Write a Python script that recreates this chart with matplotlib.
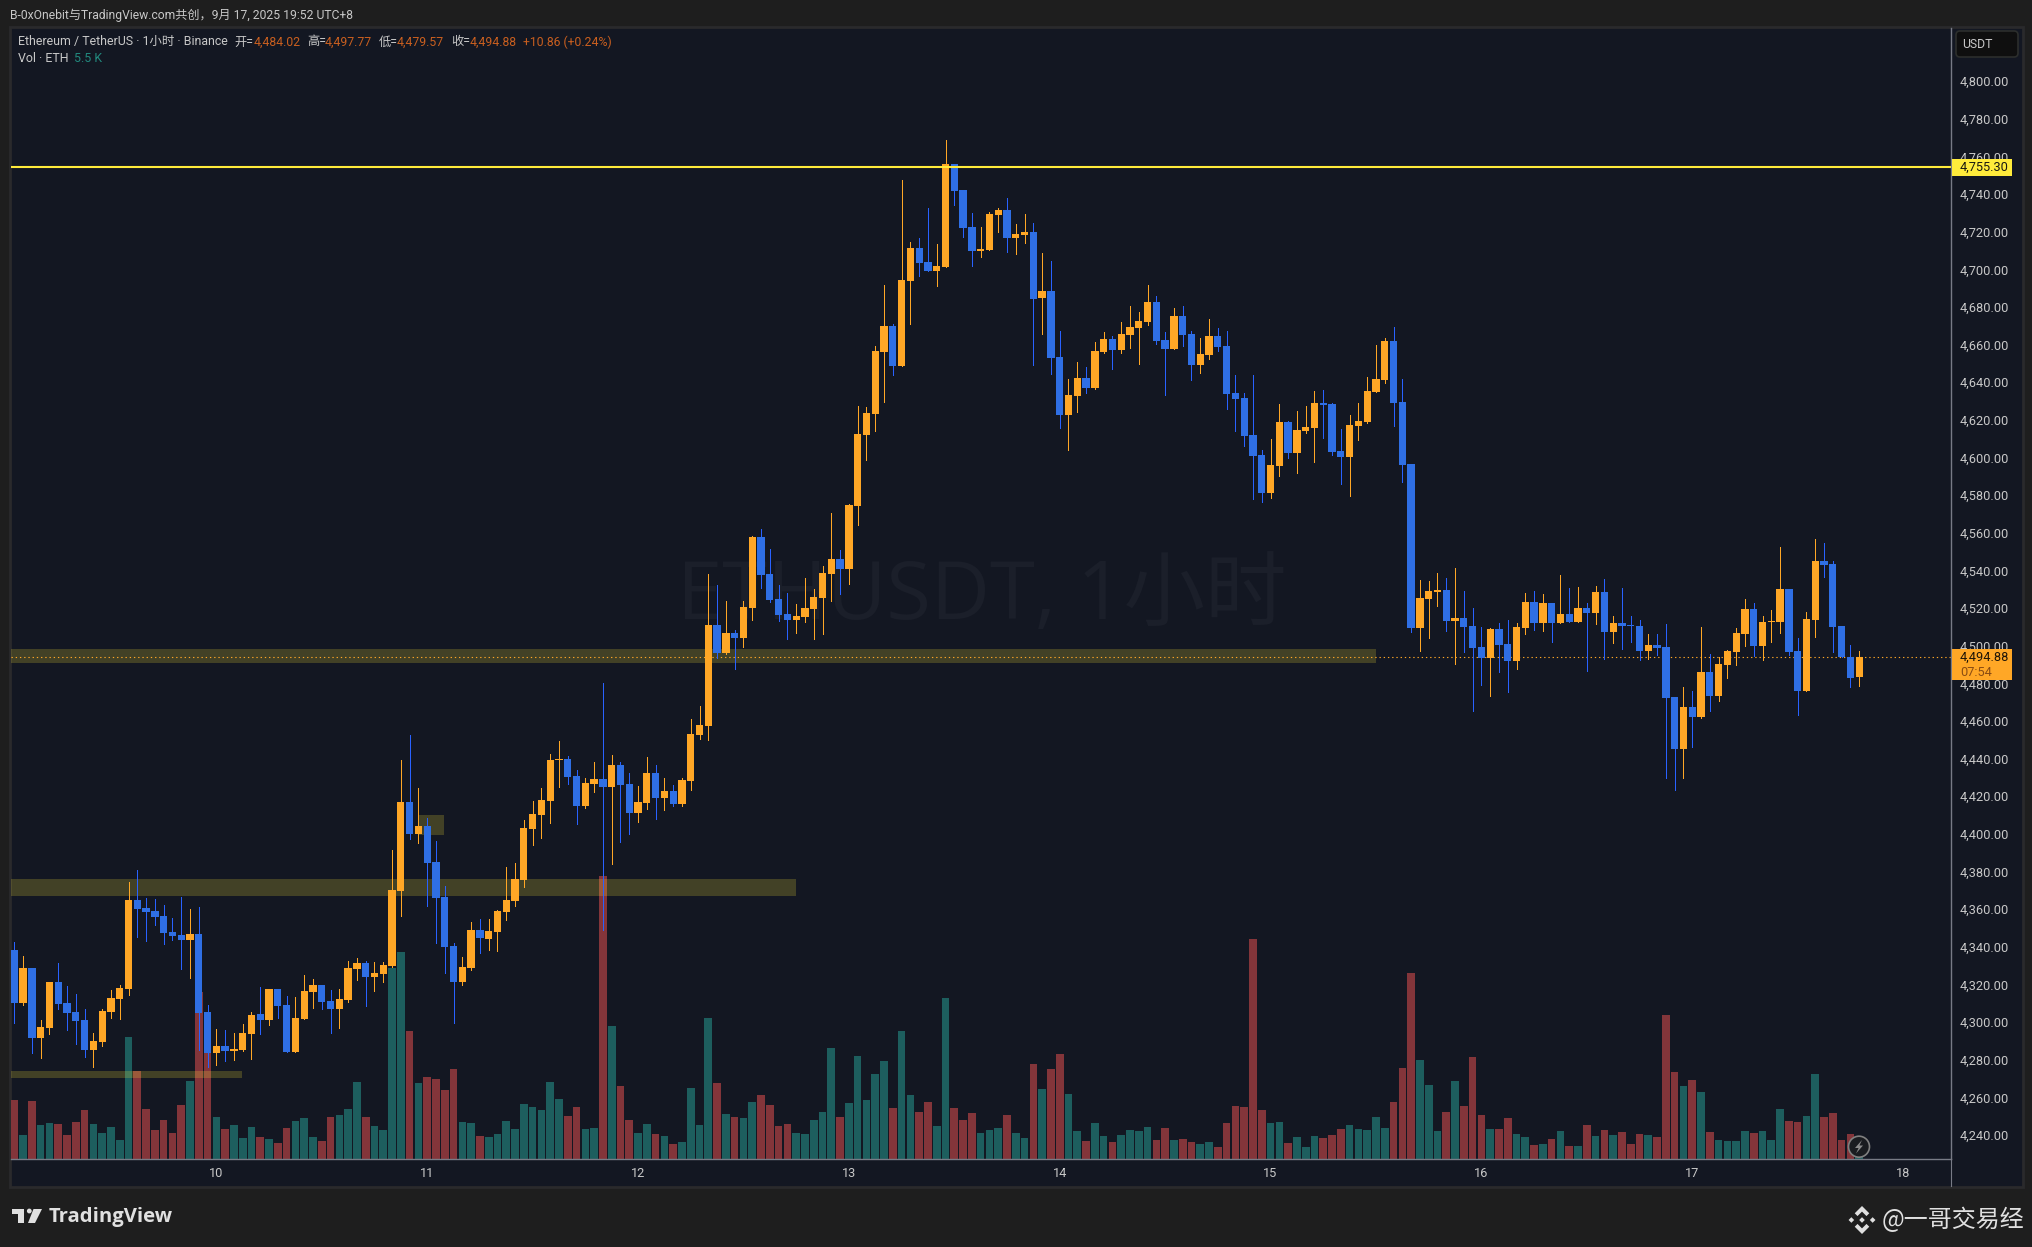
import matplotlib
matplotlib.use('Agg')
import matplotlib.pyplot as plt
from matplotlib.patches import Rectangle, Polygon, Circle, FancyBboxPatch
from matplotlib.transforms import ScaledTranslation

# hourly candles ETH/USDT
opens = [4339.2,4311.0,4329.6,4292.4,4297.7,4322.2,4311.0,4306.2,4302.0,4286.1,
 4290.3,4306.2,4313.2,4318.5,4365.8,4361.5,4359.9,4357.3,4348.8,4347.2,
 4344.5,4347.7,4306.2,4284.5,4288.2,4285.5,4286.1,4294.6,4305.2,4302.0,
 4318.5,4310.0,4285.0,4302.5,4316.9,4320.6,4312.1,4307.8,4312.6,4329.1,
 4332.3,4324.8,4326.4,4330.7,4370.5,4417.8,4400.8,4405.1,4385.9,4367.3,
 4341.3,4322.2,4329.6,4349.8,4345.0,4348.8,4359.4,4365.2,4376.4,4403.5,
 4410.9,4418.4,4440.3,4440.7,4431.6,4415.7,4427.4,4430.1,4425.8,4437.5,
 4427.4,4412.0,4417.3,4433.2,4420.0,4423.7,4416.8,4429.0,4453.4,4458.2,
 4511.9,4497.0,4507.6,4505.0,4520.9,4558.6,4539.0,4525.7,4517.7,4514.5,
 4516.1,4520.4,4526.2,4539.0,4546.9,4541.6,4575.1,4612.8,4624.0,4656.9,
 4670.7,4649.5,4694.7,4712.2,4704.7,4700.0,4702.1,4756.8,4743.0,4723.3,
 4710.6,4711.1,4729.7,4732.4,4717.5,4719.1,4720.7,4685.6,4689.3,4654.3,
 4623.4,4633.5,4643.1,4637.8,4656.9,4663.8,4658.0,4666.0,4669.7,4672.9,
 4683.5,4663.3,4658.5,4676.1,4666.5,4650.0,4655.3,4665.4,4660.1,4635.1,
 4632.5,4612.8,4602.2,4582.0,4596.3,4619.7,4603.3,4614.9,4616.5,4629.8,
 4629.2,4604.3,4601.1,4617.5,4619.7,4635.6,4642.0,4662.7,4630.3,4597.4,
 4510.2,4525.6,4529.3,4530.4,4513.9,4515.5,4511.3,4500.1,4494.3,4509.7,
 4501.7,4492.7,4510.2,4524.0,4512.9,4523.5,4512.9,4517.7,4513.4,4520.8,
 4518.2,4529.3,4508.1,4512.9,4511.8,4511.3,4498.0,4501.2,4500.1,4473.6,
 4445.9,4468.2,4462.9,4486.8,4474.1,4490.6,4497.5,4507.0,4520.3,4500.6,
 4513.4,4513.4,4530.9,4498.0,4476.8,4514.5,4545.9,4544.3,4511.3,4494.7,4484.02]

closes = [4311.0,4329.6,4292.4,4298.3,4322.2,4310.5,4305.7,4301.5,4286.1,4290.8,
 4306.8,4313.7,4319.0,4365.8,4361.0,4359.4,4356.7,4348.2,4346.6,4344.5,
 4347.7,4305.7,4284.5,4288.2,4285.5,4286.6,4295.1,4304.6,4302.0,4318.5,
 4309.4,4285.0,4303.1,4317.4,4320.6,4311.6,4307.8,4313.2,4329.6,4332.3,
 4324.8,4327.0,4331.2,4371.1,4417.8,4400.8,4405.1,4385.4,4366.8,4340.8,
 4322.2,4330.2,4349.8,4345.6,4349.3,4359.9,4365.8,4376.9,4404.0,4411.5,
 4418.9,4440.1,4440.9,4431.1,4415.7,4427.9,4430.1,4425.8,4437.5,4426.9,
 4412.0,4417.8,4433.2,4420.0,4423.7,4416.8,4429.5,4454.0,4458.7,4511.9,
 4497.0,4507.6,4505.0,4521.4,4558.6,4538.4,4525.2,4517.2,4514.5,4516.7,
 4520.9,4526.8,4539.5,4546.9,4541.6,4575.6,4613.4,4624.5,4657.5,4670.7,
 4649.5,4695.2,4712.2,4704.2,4700.0,4702.6,4756.8,4742.5,4722.8,4710.6,
 4711.7,4730.3,4732.4,4717.5,4719.6,4720.7,4685.1,4689.3,4653.7,4623.4,
 4634.1,4643.1,4637.8,4657.5,4663.8,4658.0,4666.5,4670.2,4673.4,4683.5,
 4662.8,4658.5,4676.1,4666.0,4650.0,4655.9,4665.4,4659.6,4634.6,4632.0,
 4612.3,4601.7,4582.0,4596.9,4619.7,4603.3,4615.5,4617.0,4629.8,4628.7,
 4603.7,4601.1,4618.1,4620.2,4636.1,4642.5,4662.7,4629.8,4596.8,4510.2,
 4526.2,4529.9,4530.4,4513.9,4515.5,4510.7,4499.6,4494.3,4509.7,4501.2,
 4492.7,4510.7,4524.0,4512.9,4523.5,4512.9,4517.7,4513.4,4520.8,4518.2,
 4529.3,4508.1,4512.9,4511.3,4511.3,4498.0,4501.2,4499.6,4473.0,4445.9,
 4468.2,4462.9,4486.8,4474.1,4491.1,4498.0,4507.6,4520.3,4500.6,4513.4,
 4513.9,4530.9,4497.5,4476.7,4515.1,4545.9,4543.8,4510.8,4494.7,4483.7,4494.88]

highs = [4343.4,4336.0,4329.6,4302.0,4322.2,4332.3,4320.1,4315.8,4307.8,4295.1,
 4307.8,4317.9,4320.6,4375.3,4381.7,4366.8,4366.3,4363.1,4356.2,4367.3,
 4361.0,4362.0,4310.0,4297.2,4296.7,4295.1,4299.9,4306.2,4319.5,4318.5,
 4318.5,4314.7,4314.2,4325.9,4323.8,4320.6,4317.9,4318.5,4333.3,4334.9,
 4333.3,4332.8,4332.8,4392.3,4440.1,4453.4,4425.3,4409.3,4397.1,4373.2,
 4342.9,4335.5,4354.1,4355.7,4355.7,4360.4,4383.3,4385.4,4408.3,4418.4,
 4425.3,4443.3,4450.2,4442.3,4434.8,4430.6,4439.1,4481.1,4442.8,4439.1,
 4433.2,4426.3,4441.7,4437.5,4430.6,4426.9,4430.6,4461.9,4468.8,4539.0,
 4533.1,4524.6,4509.2,4524.6,4559.2,4562.9,4552.3,4533.1,4528.9,4523.0,
 4536.9,4531.0,4543.2,4571.4,4551.7,4576.2,4628.2,4627.7,4660.1,4692.5,
 4671.8,4748.3,4715.4,4717.5,4733.4,4714.3,4769.6,4756.8,4743.0,4730.8,
 4723.3,4731.3,4733.4,4738.8,4724.9,4730.3,4725.5,4709.5,4705.3,4668.1,
 4642.6,4651.6,4649.0,4662.2,4667.6,4665.4,4672.9,4681.4,4678.2,4692.5,
 4686.7,4667.6,4680.3,4681.4,4668.1,4664.4,4674.5,4669.7,4668.1,4644.7,
 4635.1,4644.7,4604.9,4610.7,4629.3,4620.3,4625.6,4628.2,4636.1,4636.7,
 4629.8,4616.0,4623.4,4629.8,4643.6,4660.6,4664.3,4670.2,4642.5,4597.4,
 4535.7,4535.2,4539.4,4536.8,4542.1,4529.9,4520.8,4510.7,4510.2,4512.9,
 4514.5,4512.9,4528.8,4529.9,4528.3,4523.5,4538.4,4531.5,4532.0,4523.5,
 4532.5,4536.3,4516.6,4531.5,4516.6,4514.5,4507.0,4507.0,4512.3,4473.6,
 4478.9,4476.7,4510.7,4496.4,4494.8,4498.5,4510.2,4525.6,4523.5,4516.6,
 4519.8,4553.3,4530.9,4504.9,4518.8,4557.6,4555.5,4545.9,4511.3,4501.3,4497.77]

lows = [4300.4,4310.0,4284.5,4281.8,4294.6,4307.8,4296.7,4289.2,4282.3,4277.0,
 4288.2,4303.1,4302.5,4315.3,4346.1,4344.0,4352.5,4342.4,4344.5,4329.1,
 4324.3,4286.1,4277.0,4278.1,4280.2,4280.7,4285.5,4281.3,4294.6,4299.3,
 4303.1,4285.0,4285.0,4302.5,4308.4,4307.8,4295.1,4297.7,4311.6,4323.2,
 4309.4,4317.4,4322.2,4330.2,4357.3,4398.2,4396.0,4362.6,4342.9,4327.0,
 4300.4,4320.6,4328.6,4337.6,4339.2,4338.7,4355.1,4362.6,4372.7,4395.0,
 4398.7,4406.7,4425.8,4427.4,4406.1,4414.6,4423.1,4349.8,4384.9,4396.6,
 4400.8,4407.2,4414.1,4408.8,4413.6,4415.7,4415.7,4424.2,4451.3,4450.8,
 4494.3,4496.5,4488.5,4500.2,4514.5,4531.5,4524.1,4514.0,4504.4,4507.6,
 4513.5,4504.4,4507.1,4524.6,4528.4,4533.7,4565.0,4599.5,4614.9,4630.4,
 4644.7,4649.5,4671.8,4697.3,4700.0,4692.0,4702.1,4735.0,4718.0,4702.6,
 4707.4,4711.1,4720.7,4710.1,4709.0,4714.8,4650.0,4666.5,4645.2,4616.5,
 4604.9,4625.0,4635.1,4637.3,4656.4,4647.9,4656.4,4659.1,4650.5,4671.3,
 4661.2,4634.1,4658.5,4660.1,4642.0,4645.8,4653.2,4657.5,4626.6,4614.9,
 4607.0,4578.8,4577.2,4579.3,4591.0,4600.6,4592.6,4613.8,4598.4,4611.2,
 4602.1,4586.7,4580.4,4610.1,4619.1,4635.6,4640.4,4617.5,4587.8,4508.1,
 4498.0,4504.9,4521.9,4508.6,4491.1,4497.5,4466.1,4479.9,4474.1,4486.8,
 4476.2,4488.4,4507.0,4509.2,4508.6,4502.8,4512.9,4513.4,4513.4,4487.4,
 4512.3,4493.7,4502.2,4499.1,4502.8,4493.2,4493.7,4495.9,4430.5,4424.1,
 4430.5,4447.0,4462.4,4466.1,4471.4,4483.6,4490.6,4500.6,4495.3,4493.2,
 4502.8,4507.6,4495.9,4464.0,4476.8,4505.5,4537.4,4497.5,4494.7,4478.9,4479.57]

# volume in thousand ETH
volumes = [59,24,58,34,36,35,24,37,49,35,
 26,32,19,122,88,50,29,39,26,54,
 78,167,120,42,30,34,21,32,22,20,
 16,31,38,41,22,18,42,44,50,77,
 42,33,29,191,207,128,76,82,80,69,
 90,37,36,23,22,25,38,30,55,52,
 49,77,60,43,52,30,31,283,133,73,
 39,26,35,25,23,15,17,71,34,141,
 76,45,42,41,57,64,54,33,35,26,
 25,39,47,111,42,56,103,59,85,98,
 51,128,64,47,57,33,161,51,39,46,
 26,29,31,44,26,21,95,70,90,105,
 65,28,18,36,23,17,24,29,28,32,
 19,31,19,20,17,15,17,12,36,53,
 52,220,49,36,37,16,22,12,23,21,
 24,30,34,30,29,42,31,57,91,186,
 99,74,28,47,78,53,102,44,30,30,
 41,25,22,14,15,20,28,13,13,34,
 23,29,24,27,15,25,24,22,144,87,
 73,79,67,27,19,18,18,28,26,28,
 19,50,38,37,43,85,42,46,19,25,5.5]

price_ticks = list(range(4240, 4801, 20))
day_ticks = [23, 47, 71, 95, 119, 143, 167, 191, 215]
day_labels = ['10', '11', '12', '13', '14', '15', '16', '17', '18']

# zones: start bar, end bar, low, high
zones = [(-1, 155.0, 4491.7, 4499.1),
         (-1, 89.0, 4367.9, 4376.9),
         (46.1, 48.9, 4400.3, 4410.9),
         (-1, 25.9, 4271.2, 4274.9)]
resistance = 4755.30
last_price = 4494.88

W, H = 2033, 1247
BG = '#1e1e1e'
PANE = '#131722'
BORDER = '#2a2a2c'
AXIS = '#787b86'
TXT = '#c8c8c8'
UP = '#ffa726'
DOWN = '#2f6fe4'
DOWN_WICK = '#2962ff'
VOL_UP = '#1d5e5e'
VOL_DOWN = '#83353a'
FONT = ['Roboto', 'Noto Sans CJK SC', 'DejaVu Sans']
CJK = ['Noto Sans CJK SC', 'DejaVu Sans']

plt.rcParams['font.family'] = FONT

fig = plt.figure(figsize=(W / 100, H / 100), dpi=100, facecolor=BG)


def pane_rect(x0, y0, x1, y1):
    return [x0 / W, 1 - y1 / H, (x1 - x0) / W, (y1 - y0) / H]


# pixel-space layers for the window furniture
under = fig.add_axes([0, 0, 1, 1], zorder=0)
under.set_xlim(0, W)
under.set_ylim(H, 0)
under.axis('off')
under.add_patch(Rectangle((10, 27), 2013, 1160, fc=PANE, ec=BORDER, lw=2))
under.text(982, 598, 'ETHUSDT, 1小时', color='#1b1f2a', fontsize=58.6, ha='center', va='center',
           family=['Open Sans', 'Noto Sans CJK SC'])

left, right, top, bottom = 11, 1951.5, 28, 1159
xlim = ((left - 14.3) / 8.785, (right - 14.3) / 8.785)
ylim = (4800 - (bottom - 82.7) / 1.882, 4800 - (top - 82.7) / 1.882)

# volume underneath
axv = fig.add_axes(pane_rect(left, top, right, bottom), zorder=1)
axv.patch.set_alpha(0)
axv.set_xlim(xlim)
axv.set_ylim(0, bottom - top)
axv.axis('off')
xs = list(range(len(opens)))
vol_colors = [VOL_UP if c >= o else VOL_DOWN for o, c in zip(opens, closes)]
axv.bar(xs, volumes, width=0.87, color=vol_colors, antialiased=False)

# candles
ax = fig.add_axes(pane_rect(left, top, right, bottom), zorder=2)
ax.patch.set_alpha(0)
ax.set_xlim(xlim)
ax.set_ylim(ylim)
for s in ['top', 'left']:
    ax.spines[s].set_visible(False)
for s in ['right', 'bottom']:
    ax.spines[s].set_color(AXIS)
    ax.spines[s].set_linewidth(1.0)

for x0, x1, lo, hi in zones:
    ax.add_patch(Rectangle((x0, lo), x1 - x0, hi - lo, fc='#ffeb3b', alpha=0.2, lw=0, zorder=1))

wick_colors = [UP if c >= o else DOWN_WICK for o, c in zip(opens, closes)]
body_colors = [UP if c >= o else DOWN for o, c in zip(opens, closes)]
ax.vlines(xs, lows, highs, colors=wick_colors, lw=0.6, antialiased=False, zorder=2)
ax.bar(xs, [max(abs(c - o), 0.6) for o, c in zip(opens, closes)],
       bottom=[min(o, c) for o, c in zip(opens, closes)],
       width=0.83, color=body_colors, antialiased=False, zorder=3)

ax.axhline(resistance, color='#ffeb3b', lw=1.5, zorder=4)
ax.axhline(last_price, color=UP, lw=0.8, dashes=(1.2, 2.6), zorder=1.5)

ax.yaxis.tick_right()
ax.set_yticks(price_ticks, [f'{p:,.2f}' for p in price_ticks])
ax.set_xticks(day_ticks, day_labels)
ax.tick_params(axis='y', length=0, pad=6.2, labelsize=9.2, labelcolor=TXT)
ax.tick_params(axis='x', length=0, pad=5.8, labelsize=9.2, labelcolor=TXT)
# the axis labels sit a touch above their price
for lab in ax.get_yticklabels():
    lab.set_transform(lab.get_transform() + ScaledTranslation(0, 1.6 / 100, fig.dpi_scale_trans))

# top layer: tags, legend, logos
over = fig.add_axes([0, 0, 1, 1], zorder=3)
over.patch.set_alpha(0)
over.set_xlim(0, W)
over.set_ylim(H, 0)
over.axis('off')

over.plot([1951.5, 1951.5], [1159, 1186], color=AXIS, lw=0.8)

over.text(10, 15, 'B-0xOnebit与TradingView.com共创，9月 17, 2025 19:52 UTC+8', color=TXT,
          fontsize=8.7, va='center')

leg_y = 42
over.text(18, leg_y, 'Ethereum / TetherUS · 1小时 · Binance', color=TXT, fontsize=8.95, va='center')
VAL = '#c95f1f'
for x_lab, lab, x_val, val in [(234, '开=', 253.5, '4,484.02'), (307, '高=', 325, '4,497.77'),
                               (379, '低=', 397, '4,479.57'), (451, '收=', 470, '4,494.88')]:
    over.text(x_lab, leg_y, lab, color=TXT, fontsize=8.8, va='center')
    over.text(x_val, leg_y, val, color=VAL, fontsize=8.8, va='center')
over.text(523, leg_y, '+10.86 (+0.24%)', color=VAL, fontsize=8.8, va='center')
over.text(18, 59, 'Vol · ETH', color=TXT, fontsize=8.9, va='center')
over.text(74.5, 59, '5.5 K', color='#22897e', fontsize=8.9, va='center')

# USDT button
over.add_patch(FancyBboxPatch((1958, 33), 58, 22, boxstyle='round,pad=2,rounding_size=4',
                              fc='#0f0f0f', ec='#2c2e2c', lw=1.2))
over.text(1962.5, 44, 'USDT', color=TXT, fontsize=8.8, va='center')

# price tags
over.add_patch(Rectangle((1952, 159), 60, 17, fc='#ffeb3b', lw=0))
over.text(1960, 167, f'{resistance:,.2f}', color='#1a1a10', fontsize=9.2, va='center')
over.add_patch(Rectangle((1952, 649), 60, 31, fc=UP, lw=0))
over.text(1960, 657, f'{last_price:,.2f}', color='#1f1508', fontsize=9.2, va='center')
over.text(1960, 672, '07:54', color='#8a4c12', fontsize=9.2, va='center')

# lightning badge
over.add_patch(Circle((1859, 1146.7), 10.5, fc='#1a1c20', ec='#808080', lw=1.2))
over.add_patch(Polygon([(1862, 1140), (1855, 1148), (1858.6, 1148), (1856, 1153.5), (1863, 1145.5),
                        (1859.4, 1145.5)], fc='#8c8c8c', lw=0))

# TradingView logo
LOGO = '#e0e0e0'
over.add_patch(Polygon([(12, 1209), (24.3, 1209), (24.3, 1223), (18, 1223), (18, 1214), (12, 1214)],
                       fc=LOGO, lw=0))
over.add_patch(Circle((29.3, 1211), 2.4, fc=LOGO, lw=0))
over.add_patch(Polygon([(33.5, 1209), (42, 1209), (35, 1223), (28, 1223)], fc=LOGO, lw=0))
over.text(49, 1217, 'TradingView', color=LOGO, fontsize=14.6, fontweight='bold', va='center',
          family='Open Sans')

# Binance diamond and author tag
cx, cy, s = 1862, 1220, 14
chev = [(0, -1), (0.52, -0.48), (0.32, -0.28), (0, -0.6), (-0.32, -0.28), (-0.52, -0.48)]
over.add_patch(Polygon([(cx + a * s, cy + b * s) for a, b in chev], fc=LOGO, lw=0))
over.add_patch(Polygon([(cx + a * s, cy - b * s) for a, b in chev], fc=LOGO, lw=0))
for dx in (-0.76, 0, 0.76):
    over.add_patch(Polygon([(cx + (dx + a) * s, cy + b * s)
                            for a, b in [(0, -0.2), (0.2, 0), (0, 0.2), (-0.2, 0)]], fc=LOGO, lw=0))
over.text(1882, 1220, '@一哥交易经', color=LOGO, fontsize=17.3, va='center', family=CJK)

fig.savefig('out.png', dpi=100, facecolor=BG)
